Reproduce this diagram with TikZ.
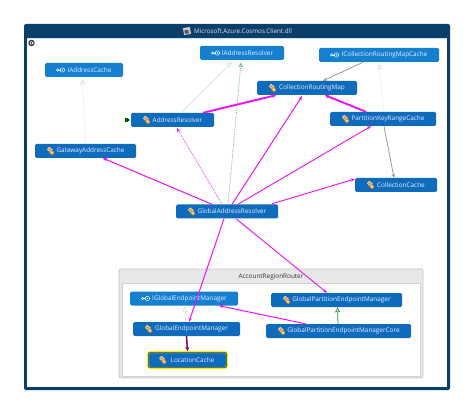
\documentclass[tikz,border=0pt]{standalone}
\usepackage{fontspec}
\setmainfont{Open Sans}
\usetikzlibrary{arrows.meta,calc}
\definecolor{frameblue}{HTML}{0B3F69}
\definecolor{clsblue}{HTML}{0F6CBD}
\definecolor{ifblue}{HTML}{1580CF}
\definecolor{mag}{HTML}{F010F0}
\definecolor{lgreen}{HTML}{CFE8CF}
\definecolor{dgreen}{HTML}{30A050}
\definecolor{icontan}{HTML}{F3D9A8}
\definecolor{iconorange}{HTML}{D98A2B}
\tikzset{
  box/.style={rounded corners=1.5pt,minimum height=14pt,inner sep=0pt,text=white!92!blue,font=\fontsize{6.4}{7}\selectfont},
  cls/.style={box,fill=clsblue},
  ifc/.style={box,fill=ifblue},
  magline/.style={draw=mag,line width=1pt,-{Stealth[length=4pt,width=3.5pt]}},
  magthick/.style={draw=mag,line width=1.9pt,-{Stealth[length=4pt,width=4pt]}},
  magdot/.style={draw=mag,line width=.7pt,densely dotted,-{Stealth[length=4pt,width=3.5pt]}},
  impl/.style={draw=lgreen,line width=.7pt,densely dotted,-{Triangle[open,length=5pt,width=5pt,fill=white]}},
  impldark/.style={draw=dgreen!70!white,line width=.7pt,densely dotted,-{Triangle[open,length=4pt,width=4pt,fill=white]}},
  grayline/.style={draw=black!40,line width=.8pt,-{Stealth[length=4pt,width=3.5pt]}},
  pics/clsicon/.style={code={
    \fill[icontan,rotate=-40,rounded corners=.6pt] (-4,-2.2) rectangle (1,1.4);
    \fill[iconorange,rotate=-40,rounded corners=.6pt] (-.5,-1.2) rectangle (4,2.4);
    \fill[icontan,rotate=-40] (.6,-.3) rectangle (3,1.4);
    \fill[iconorange,rotate=-40] (-3,-1.2) rectangle (-1,.4);
  }},
  pics/ificon/.style={code={
    \draw[white,line width=.5pt] (-3.2,0) circle (1.2);
    \draw[white,line width=.5pt] (1.6,0) circle (2.2);
    \fill[white] (1.6,0) circle (.8);
    \draw[white,line width=.5pt] (-2,0) -- (-.6,0);
  }}
}
\newcommand{\shifted}{\hspace*{10pt}}
\begin{document}
\begin{tikzpicture}[x=1pt,y=-1pt]
\useasboundingbox (0,0) rectangle (474,414);
\fill[white] (0,0) rectangle (474,414);
% frame
\fill[frameblue,rounded corners=2pt] (24,24) rectangle (450,390);
\fill[white] (27,38) rectangle (447,387);
\draw[cyan!25!white,line width=.6pt] (27,38) -- (447,38);
\node[text=white!88!blue,font=\fontsize{6.3}{7}\selectfont,inner sep=0pt] (title) at (243,31) {Microsoft.Azure.Cosmos.Client.dll};
\fill[white!80!black,rotate around={10:(187,31)}] (183.5,27.5) rectangle (190.5,34.5);
\fill[black!65,rotate around={10:(187,31)}] (184.5,30) rectangle (188.5,33.5);
% layout badge
\fill[black!80] (31.5,43) circle (3.2);
\draw[white,line width=.8pt,dash pattern=on 1.6pt off 1.2pt] (31.5,43) circle (1.7);
% group
\fill[black!9,rounded corners=2pt] (119,269) rectangle (423,378);
\draw[black!22,line width=.7pt,rounded corners=2pt] (119,269) rectangle (423,378);
\fill[white] (122,283) rectangle (420,376);
\draw[black!18,line width=.7pt] (122,283) rectangle (420,376);
\node[text=black!80,font=\fontsize{6.4}{7}\selectfont,inner sep=0pt] (grouptitle) at (271,276.5) {AccountRegionRouter};
% nodes
\node[ifc,minimum width=78pt] (iac) at (84,70) {\hspace*{11pt}IAddressCache};
\node[ifc,minimum width=84pt] (iar) at (242,53) {\hspace*{11pt}IAddressResolver};
\node[ifc,minimum width=120pt] (icrmc) at (379,55) {\hspace*{11pt}ICollectionRoutingMapCache};
\node[cls,minimum width=100pt] (crm) at (307,88) {\shifted CollectionRoutingMap};
\node[cls,minimum width=83pt] (ar) at (172.5,120) {\shifted AddressResolver};
\node[cls,minimum width=106pt] (pkrc) at (383,119) {\shifted PartitionKeyRangeCache};
\node[cls,minimum width=101pt] (gac) at (85.5,151) {\shifted GatewayAddressCache};
\node[cls,minimum width=82pt] (cc) at (396,185) {\shifted CollectionCache};
\node[cls,minimum width=102pt] (gar) at (227,211.5) {\shifted GlobalAddressResolver};
\node[ifc,minimum width=108pt] (igem) at (184,298.5) {\hspace*{11pt}IGlobalEndpointManager};
\node[cls,minimum width=131pt] (gpem) at (336.5,300) {\shifted GlobalPartitionEndpointManager};
\node[cls,minimum width=107pt] (gem) at (186.5,329) {\shifted GlobalEndpointManager};
\node[cls,minimum width=145pt] (core) at (338.5,331) {\shifted GlobalPartitionEndpointManagerCore};
\node[cls,draw={yellow!90!orange},line width=2pt,rounded corners=2.5pt,minimum width=79pt,minimum height=16pt] (lc) at (187.5,360) {\shifted LocationCache};
\draw[frameblue,line width=.5pt,rounded corners=1.5pt] ([shift={(1.3pt,1.3pt)}]lc.south west) rectangle ([shift={(-1.3pt,-1.3pt)}]lc.north east);
% connectors
\draw[impl] (gac.north) -- ([xshift=-1.5pt,yshift=-2pt]iac.south);
\draw[draw=lgreen,line width=.7pt,-{Triangle[open,length=5pt,width=5pt,fill=white]}] ([xshift=8.5pt]ar.north) -- ([xshift=-10pt,yshift=-2pt]iar.south);
\draw[impldark,draw=dgreen!80!white] ([xshift=1pt]gar.north) -- ([xshift=-1pt,yshift=-2.5pt]iar.south);
\draw[magthick] ([xshift=30.5pt]ar.north) -- ([xshift=-31pt]crm.south);
\draw[magline] ([xshift=-15pt]gar.north) -- ([xshift=17.5pt]gac.south);
\draw[magdot] ([xshift=-5pt]gar.north) -- ([xshift=4.5pt,yshift=-1pt]ar.south);
\draw[magline] ([xshift=5pt]gar.north) -- ([xshift=-5pt,yshift=-1pt]crm.south);
\draw[magline,line width=.9pt] ([xshift=11pt]gar.north) -- ([xshift=-12pt]pkrc.south);
\draw[magline,line width=.9pt] ([xshift=45pt,yshift=.5pt]gar.north) -- ([yshift=6pt]cc.west);
\draw[magline] ([xshift=-3pt]gar.south) -- ([xshift=2.5pt]gem.north);
\draw[magline,line width=.9pt] ([xshift=9pt]gar.south) -- ([xshift=-9.5pt]gpem.north);
\draw[magthick] ([xshift=-17pt]pkrc.north) -- ([xshift=18pt]crm.south);
\draw[grayline] ([xshift=-16pt]icrmc.south) -- ([xshift=16pt]crm.north);
\draw[grayline] ([xshift=1pt]pkrc.south) -- ([xshift=-2pt]cc.north);
\draw[impl] ([xshift=1pt]pkrc.north) -- ([yshift=-2pt]icrmc.south);
\draw[impl] ([xshift=-1.5pt]gem.north) -- ([xshift=1pt,yshift=-1pt]igem.south);
\draw[draw={rgb,255:red,128;green,0;blue,128},line width=1.5pt,-{Stealth[length=4pt,width=4pt]}] (gem.south) -- (lc.north);
\draw[draw=dgreen,line width=.8pt,-{Triangle[open,length=5pt,width=5pt,fill=white]}] ([xshift=-.5pt]core.north) -- ([xshift=1pt]gpem.south);
\draw[magline] ([xshift=-33pt]core.north) -- ([xshift=35pt]igem.south);
% port on AddressResolver
\fill[green!35!black] ([xshift=-6pt,yshift=-1.8pt]ar.west) rectangle ([xshift=-3pt,yshift=1.8pt]ar.west);
\fill[green!35!black] ([xshift=-3pt,yshift=-1.8pt]ar.west) -- ([xshift=-1pt]ar.west) -- ([xshift=-3pt,yshift=1.8pt]ar.west) -- cycle;
% icons
\foreach \n in {crm,ar,pkrc,gac,cc,gar,gpem,gem,core,lc}{ \pic at ([xshift=16pt]\n.west) {clsicon}; }
\foreach \n in {iac,iar,icrmc,igem}{ \pic at ([xshift=16pt]\n.west) {ificon}; }
\end{tikzpicture}
\end{document}
